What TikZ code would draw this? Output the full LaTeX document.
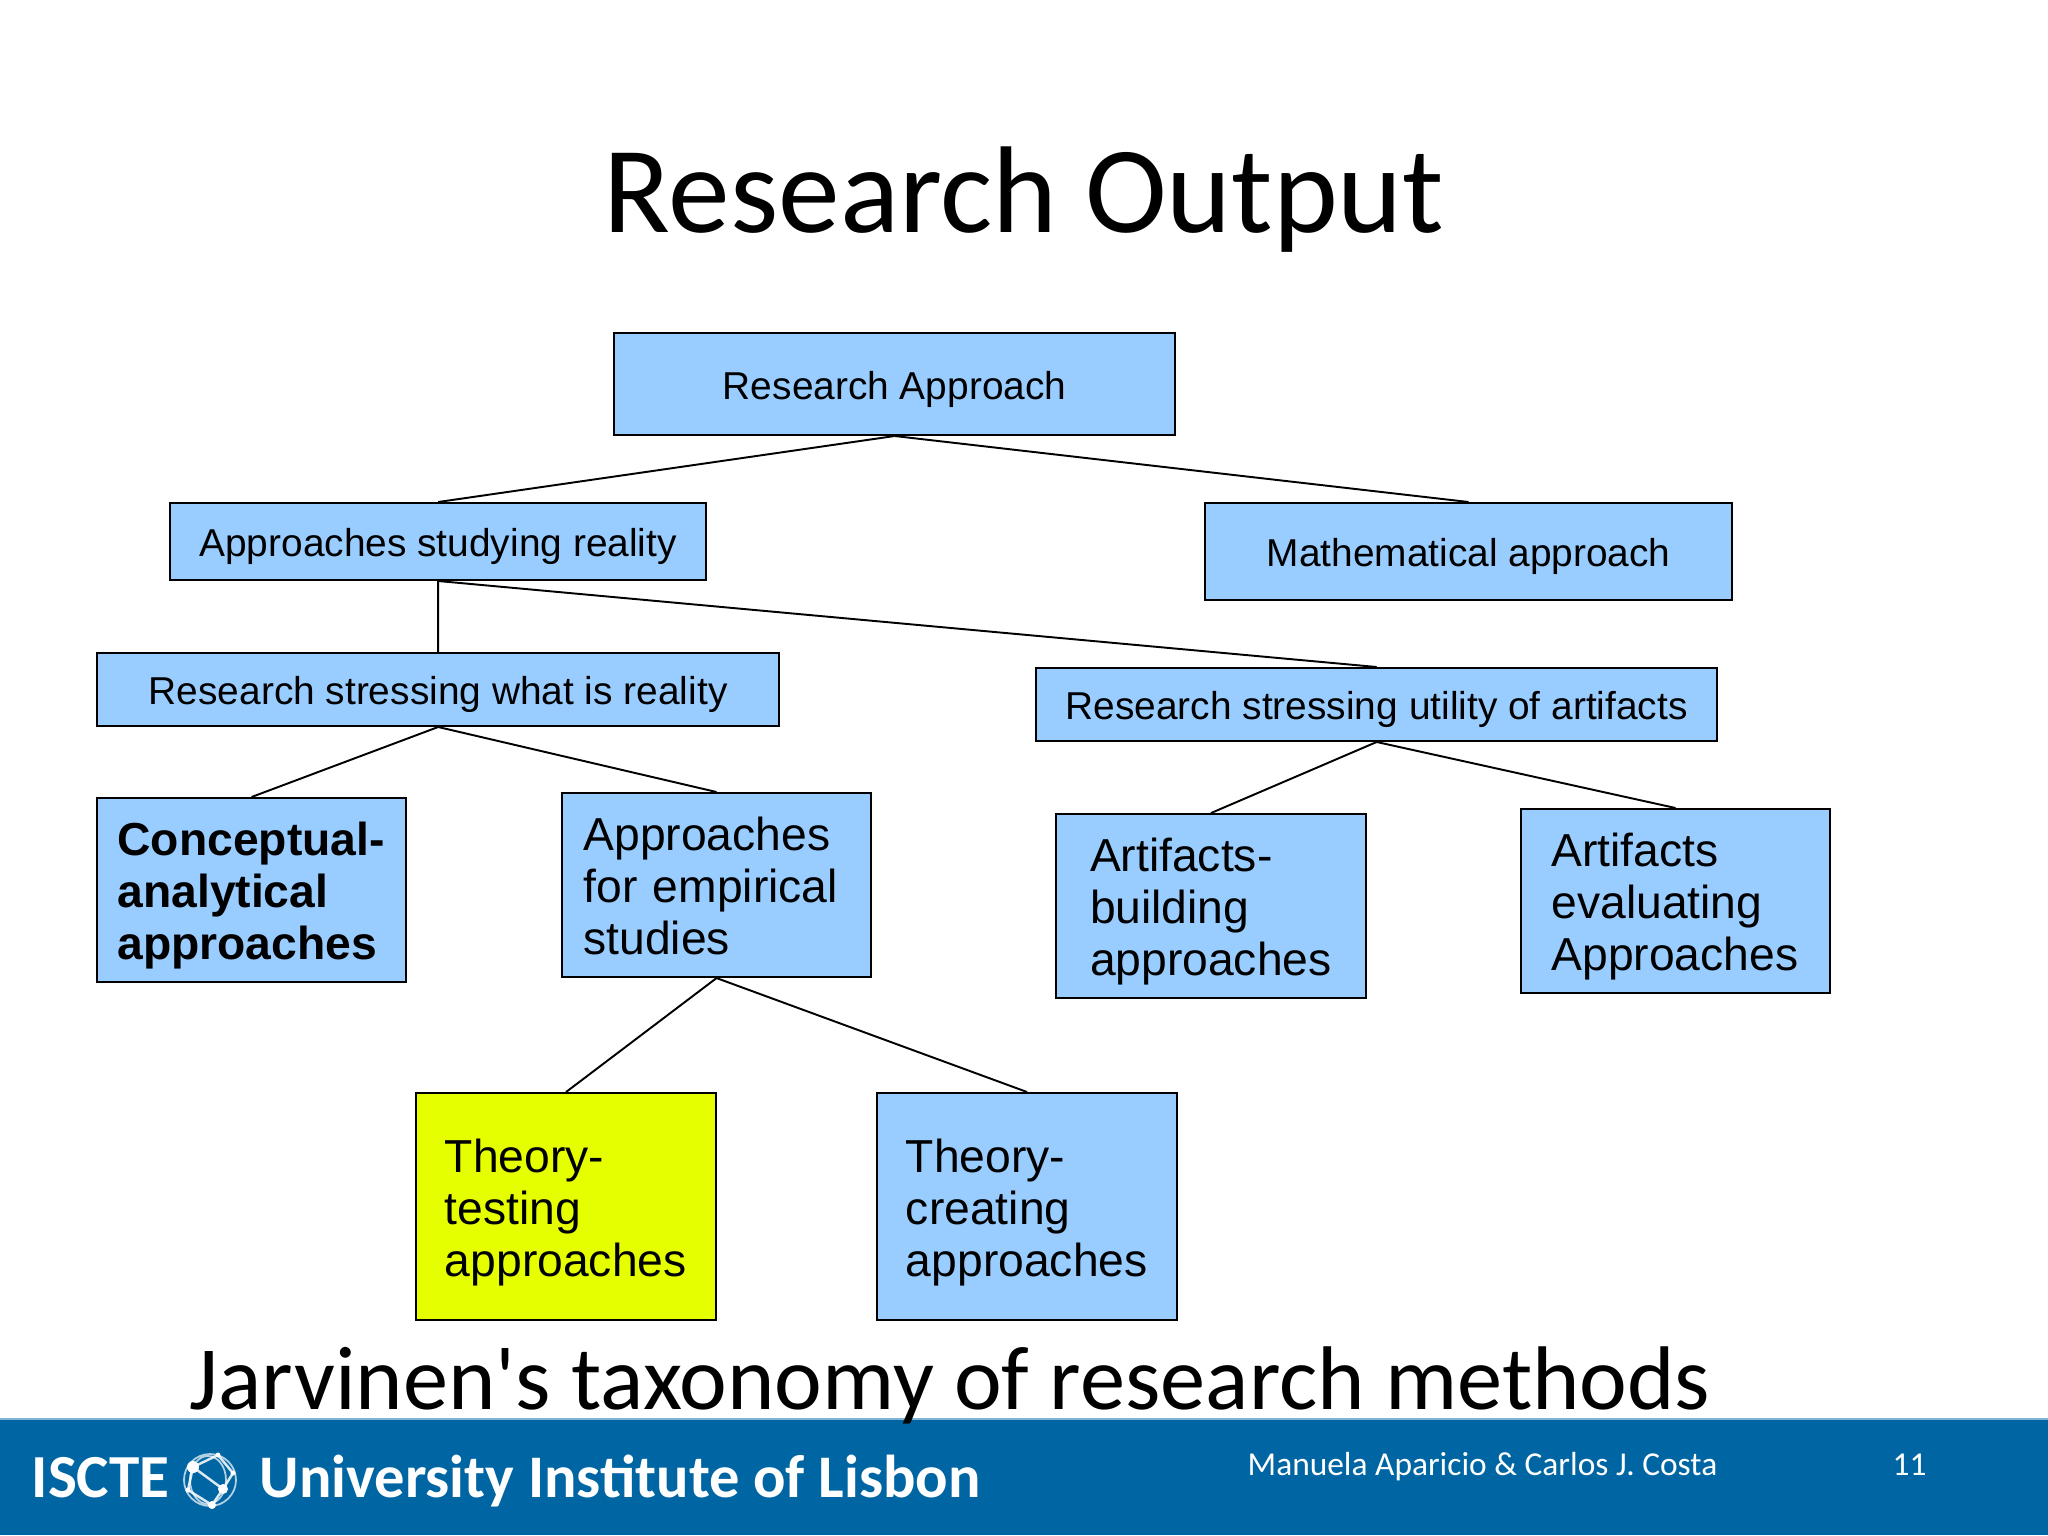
\documentclass[tikz,border=0pt]{standalone}
\usepackage{fontspec}
\setmainfont{Liberation Sans}
\newfontfamily\slidefont{Carlito}
\usepackage{xcolor}
\usetikzlibrary{calc}
\definecolor{boxblue}{HTML}{99CCFF}
\definecolor{boxyellow}{HTML}{E6FF00}
\definecolor{bandblue}{HTML}{0066A3}
\definecolor{bandedge}{HTML}{7FB3D1}
\newcommand{\smalltext}{\fontsize{11.05}{13}\selectfont}
\newcommand{\bigtext}{\fontsize{13.15}{14.8}\selectfont}

\begin{document}
\begin{tikzpicture}[
  x=0.01cm, y=-0.01cm,
  box/.style={draw=black, line width=0.55pt, fill=boxblue, inner sep=0pt, anchor=north west},
  flatbox/.style={box, align=center, text height=8.8pt, text depth=0pt, font=\smalltext},
  tallbox/.style={box, align=left, text depth=29pt, font=\bigtext},
  link/.style={draw=black, line width=0.55pt},
  slide/.style={text=black, anchor=base, inner sep=0pt, font=\slidefont},
  footer/.style={slide, text=white, anchor=base west}
]
  \useasboundingbox (0,0) rectangle (2048,1535);
  \fill[white] (0,0) rectangle (2048,1535);

  % footer band
  \fill[bandblue] (0,1419) rectangle (2048,1535);
  \draw[bandedge, line width=0.4pt] (0,1419) -- (2048,1419);
  \node[footer, font=\slidefont\bfseries\fontsize{17.4}{20}\selectfont] (iscte) at (31,1497) {ISCTE};
  \node[footer, font=\slidefont\bfseries\fontsize{17.2}{20}\selectfont] (school) at (259,1497) {University Institute of Lisbon};
  \node[footer, font=\slidefont\fontsize{9.5}{11}\selectfont] (authors) at (1247,1475) {Manuela Aparicio \& Carlos J. Costa};
  \node[footer, font=\slidefont\fontsize{9.5}{11}\selectfont] (page) at (1892,1475) {11};

  % globe
  \draw[white, line width=0.5pt, opacity=0.7] (210,1480) circle (26) (208,1480) ellipse (18 and 24);
  \draw[white, line width=0.7pt, opacity=0.85] (193,1467) -- (223,1489) -- (212,1505) -- (188,1490) -- (193,1467) -- (218,1455) -- (233,1473) -- (223,1489);
  \foreach \gx/\gy/\gr in {193/1467/6, 223/1489/5, 212/1505/4, 188/1490/2.5, 233/1473/2.5, 218/1455/2.5}
    \fill[white] (\gx,\gy) circle (\gr);

  % title and caption
  \node[slide, font=\slidefont\fontsize{35.1}{40}\selectfont] (title) at (1024,232) {Research Output};
  \node[slide, font=\slidefont\fontsize{25.7}{30}\selectfont] (caption) at (950,1409) {Jarvinen's taxonomy of research methods};

  % boxes
  \node[flatbox, minimum width=5.61cm, minimum height=1.02cm] (approach) at (613,332) {Research Approach};
  \node[flatbox, minimum width=5.36cm, minimum height=0.77cm] (reality) at (169,502) {Approaches studying reality};
  \node[flatbox, minimum width=5.27cm, minimum height=0.97cm] (math) at (1204,502) {Mathematical approach};
  \node[flatbox, minimum width=6.82cm, minimum height=0.73cm] (what) at (96,652) {Research stressing what is reality};
  \node[flatbox, minimum width=6.81cm, minimum height=0.73cm] (utility) at (1035,667) {Research stressing utility of artifacts};
  \node[tallbox, minimum width=3.09cm, minimum height=1.84cm, text width=2.68cm, font=\bigtext\bfseries] (concept) at (96,797) {Conceptual-\\analytical\\approaches};
  \node[tallbox, minimum width=3.09cm, minimum height=1.84cm, text width=2.66cm] (empirical) at (561,792) {Approaches\\for empirical\\studies};
  \node[tallbox, minimum width=3.1cm, minimum height=1.84cm, text width=2.42cm] (building) at (1055,813) {Artifacts-\\building\\approaches};
  \node[tallbox, minimum width=3.09cm, minimum height=1.84cm, text width=2.48cm] (evaluating) at (1520,808) {Artifacts\\evaluating\\Approaches};
  \node[tallbox, fill=boxyellow, minimum width=3cm, minimum height=2.27cm, text width=2.42cm] (testing) at (415,1092) {Theory-\\testing\\approaches};
  \node[tallbox, minimum width=3cm, minimum height=2.27cm, text width=2.42cm] (creating) at (876,1092) {Theory-\\creating\\approaches};

  % tree
  \draw[link] (approach.south) -- (reality.north);
  \draw[link] (approach.south) -- (math.north);
  \draw[link] (reality.south) -- (what.north);
  \draw[link] (reality.south) -- (utility.north);
  \draw[link] (what.south) -- (concept.north);
  \draw[link] (what.south) -- (empirical.north);
  \draw[link] (utility.south) -- (building.north);
  \draw[link] (utility.south) -- (evaluating.north);
  \draw[link] (empirical.south) -- (testing.north);
  \draw[link] (empirical.south) -- (creating.north);
\end{tikzpicture}
\end{document}
